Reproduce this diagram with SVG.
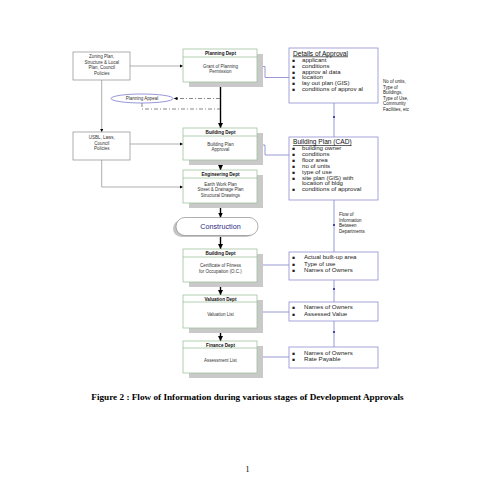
<svg xmlns="http://www.w3.org/2000/svg" width="495" height="495" viewBox="0 0 495 495">
<defs>
<style>
.bg{fill:#fff}
.box{fill:#fff;stroke:#9fc49f;stroke-width:0.8}
.shadow{fill:#c9c9c9}
.gbox{fill:#fff;stroke:#8c8c8c;stroke-width:0.7}
.hline{stroke:#9fc49f;stroke-width:0.8}
.hdr{font-family:"Liberation Sans",Arial,sans-serif;font-size:4.6px;font-weight:bold;text-anchor:middle;fill:#111}
.txt{font-family:"Liberation Sans",Arial,sans-serif;font-size:4.5px;text-anchor:middle;fill:#333}
.rbox{fill:#fff;stroke:#8e8ed2;stroke-width:0.8}
.ttl{font-family:"Liberation Sans",Arial,sans-serif;font-size:6.6px;fill:#111;text-decoration:underline}
.item{font-family:"Liberation Sans",Arial,sans-serif;font-size:6.1px;fill:#222}
.bul{font-family:"DejaVu Sans",sans-serif;font-size:4.5px;fill:#222}
.note{font-family:"Liberation Sans",Arial,sans-serif;font-size:4.5px;fill:#222}
.blue{stroke:#7f7fcc;stroke-width:0.8;fill:none}
.flow{stroke:#000;stroke-width:1.4;fill:none}
.grey{stroke:#8c8c8c;stroke-width:0.7;fill:none}
.dash{stroke:#555;stroke-width:0.7;fill:none;stroke-dasharray:4,2,1,2}
.dot{fill:#2a2a90}
</style>
<marker id="ah" viewBox="0 0 10 10" refX="10" refY="5" markerWidth="5" markerHeight="5" markerUnits="userSpaceOnUse" orient="auto"><path d="M0,0 L10,5 L0,10 z" fill="#000"/></marker>
<marker id="as" viewBox="0 0 10 10" refX="10" refY="5" markerWidth="3.5" markerHeight="3.5" markerUnits="userSpaceOnUse" orient="auto"><path d="M0,0 L10,5 L0,10 z" fill="#000"/></marker>
</defs>
<rect class="bg" x="0" y="0" width="495" height="495"/>

<g id="connectors">
<line class="grey" x1="130" y1="66" x2="183" y2="66" marker-end="url(#as)"/>
<line class="grey" x1="101.7" y1="80" x2="101.7" y2="132" marker-end="url(#as)"/>
<line class="grey" x1="130" y1="144" x2="183" y2="144" marker-end="url(#as)"/>
<polyline class="grey" points="101.7,160 101.7,187 183,187" marker-end="url(#as)"/>
<line class="flow" x1="220.5" y1="82" x2="220.5" y2="128" marker-end="url(#ah)"/>
<line class="flow" x1="220.5" y1="160" x2="220.5" y2="170" marker-end="url(#ah)"/>
<line class="flow" x1="220.5" y1="203" x2="220.5" y2="217.5" marker-end="url(#ah)"/>
<line class="flow" x1="220.5" y1="236" x2="220.5" y2="249" marker-end="url(#ah)"/>
<line class="flow" x1="220.5" y1="282" x2="220.5" y2="295" marker-end="url(#ah)"/>
<line class="flow" x1="220.5" y1="328" x2="220.5" y2="341" marker-end="url(#ah)"/>
<line class="dash" x1="220" y1="98.5" x2="174" y2="98.5" marker-end="url(#as)"/>
<polyline class="dash" points="142,103 142,109 220,109"/>
<polyline class="blue" points="257,66.5 265,66.5 265,77.5 289,77.5"/>
<polyline class="blue" points="257,145 265,145 265,155 289,155"/>
<line class="blue" x1="257" y1="265" x2="289" y2="265"/>
<line class="blue" x1="257" y1="312" x2="289" y2="312"/>
<line class="blue" x1="257" y1="357" x2="289" y2="357"/>
<line class="blue" x1="334" y1="103" x2="334" y2="137"/>
<line class="blue" x1="334" y1="200" x2="334" y2="252"/>
<line class="blue" x1="334" y1="280" x2="334" y2="302"/>
<line class="blue" x1="334" y1="321" x2="334" y2="347"/>
<circle class="dot" cx="334" cy="117" r="1.1"/>
<circle class="dot" cx="334" cy="225" r="1.1"/>
<circle class="dot" cx="334" cy="289" r="1.1"/>
<circle class="dot" cx="334" cy="332" r="1.1"/>
</g>

<g id="zoning">
<rect class="gbox" x="73" y="52" width="57" height="28"/>
<text class="txt" x="101.7" y="58">Zoning Plan,</text>
<text class="txt" x="101.7" y="63.5">Structure &amp; Local</text>
<text class="txt" x="101.7" y="69">Plan, Council</text>
<text class="txt" x="101.7" y="74.5">Policies</text>
</g>

<g id="usbl">
<rect class="gbox" x="73" y="132" width="57" height="28"/>
<text class="txt" x="101.7" y="139">USBL, Laws,</text>
<text class="txt" x="101.7" y="144.5">Council</text>
<text class="txt" x="101.7" y="150">Policies</text>
</g>

<g id="planning">
<rect class="shadow" x="189" y="54" width="74" height="33"/>
<rect class="box" x="183" y="49" width="74" height="33"/>
<line class="hline" x1="183" y1="57" x2="257" y2="57"/>
<text class="hdr" x="220.5" y="55">Planning Dept</text>
<text class="txt" x="220.5" y="67.5">Grant of Planning</text>
<text class="txt" x="220.5" y="73">Permission</text>
</g>

<g id="appeal">
<ellipse cx="142" cy="98.5" rx="31" ry="4.5" fill="#fff" stroke="#6a6ac8" stroke-width="0.7"/>
<text class="txt" x="142" y="100">Planning Appeal</text>
</g>

<g id="building">
<rect class="shadow" x="189" y="133" width="74" height="32"/>
<rect class="box" x="183" y="128" width="74" height="32"/>
<line class="hline" x1="183" y1="136" x2="257" y2="136"/>
<text class="hdr" x="220.5" y="134">Building Dept</text>
<text class="txt" x="220.5" y="145.5">Building Plan</text>
<text class="txt" x="220.5" y="151">Approval</text>
</g>

<g id="engineering">
<rect class="shadow" x="189" y="175" width="74" height="33"/>
<rect class="box" x="183" y="170" width="74" height="33"/>
<line class="hline" x1="183" y1="178" x2="257" y2="178"/>
<text class="hdr" x="220.5" y="176">Engineering Dept</text>
<text class="txt" x="220.5" y="185.5">Earth Work Plan</text>
<text class="txt" x="220.5" y="191">Street &amp; Drainage Plan</text>
<text class="txt" x="220.5" y="196.5">Structural Drawings</text>
</g>

<g id="construction">
<rect x="173" y="220" width="82" height="17" rx="8.5" fill="#c4c4c4"/>
<rect x="176" y="217.5" width="82" height="18" rx="9" fill="#fff" stroke="#8c8c8c" stroke-width="0.7"/>
<text x="220.5" y="229" font-family="Liberation Sans, Arial, sans-serif" font-size="7.2px" text-anchor="middle" fill="#2b2b80">Construction</text>
</g>

<g id="certificate">
<rect class="shadow" x="189" y="254" width="74" height="33"/>
<rect class="box" x="183" y="249" width="74" height="33"/>
<line class="hline" x1="183" y1="257" x2="257" y2="257"/>
<text class="hdr" x="220.5" y="255">Building Dept</text>
<text class="txt" x="220.5" y="266.5">Certificate of Fitness</text>
<text class="txt" x="220.5" y="272.5">for Occupation (O.C.)</text>
</g>

<g id="valuation">
<rect class="shadow" x="189" y="300" width="74" height="33"/>
<rect class="box" x="183" y="295" width="74" height="33"/>
<line class="hline" x1="183" y1="302" x2="257" y2="302"/>
<text class="hdr" x="220.5" y="300.5">Valuation Dept</text>
<text class="txt" x="220.5" y="316">Valuation List</text>
</g>

<g id="finance">
<rect class="shadow" x="189" y="346" width="74" height="32"/>
<rect class="box" x="183" y="341" width="74" height="32"/>
<line class="hline" x1="183" y1="348" x2="257" y2="348"/>
<text class="hdr" x="220.5" y="346.5">Finance Dept</text>
<text class="txt" x="220.5" y="362">Assessment List</text>
</g>

<g id="details">
<rect class="rbox" x="289" y="48" width="89" height="55"/>
<text class="ttl" x="293" y="55.5">Details of Approval</text>
<g class="bul"><text x="292" y="61.7">▪</text><text x="292" y="67.6">▪</text><text x="292" y="73.5">▪</text><text x="292" y="79.4">▪</text><text x="292" y="85.3">▪</text><text x="292" y="91.2">▪</text></g>
<text class="item" x="302" y="61.7">applicant</text>
<text class="item" x="302" y="67.6">conditions</text>
<text class="item" x="302" y="73.5">approv al data</text>
<text class="item" x="302" y="79.4">location</text>
<text class="item" x="302" y="85.3">lay out plan (GIS)</text>
<text class="item" x="302" y="91.2">conditions of approv al</text>
</g>

<g id="note1">
<text class="note" x="383" y="83">No of units,</text>
<text class="note" x="383" y="88.5">Type of</text>
<text class="note" x="383" y="94">Buildings,</text>
<text class="note" x="383" y="99.5">Type of Use,</text>
<text class="note" x="383" y="105">Community</text>
<text class="note" x="383" y="110.5">Facilities, etc</text>
</g>

<g id="buildingplan">
<rect class="rbox" x="289" y="137" width="89" height="63"/>
<text class="ttl" x="293" y="144">Building Plan (CAD)</text>
<g class="bul"><text x="292" y="150">▪</text><text x="292" y="155.9">▪</text><text x="292" y="161.8">▪</text><text x="292" y="167.7">▪</text><text x="292" y="173.6">▪</text><text x="292" y="179.5">▪</text><text x="292" y="191.3">▪</text></g>
<text class="item" x="302" y="150">building owner</text>
<text class="item" x="302" y="155.9">conditions</text>
<text class="item" x="302" y="161.8">floor area</text>
<text class="item" x="302" y="167.7">no of units</text>
<text class="item" x="302" y="173.6">type of use</text>
<text class="item" x="302" y="179.5">site plan (GIS) with</text>
<text class="item" x="302" y="185.4">location of bldg</text>
<text class="item" x="302" y="191.3">conditions of approval</text>
</g>

<g id="note2">
<text class="note" x="339" y="216">Flow of</text>
<text class="note" x="339" y="221.5">Information</text>
<text class="note" x="339" y="227">Between</text>
<text class="note" x="339" y="232.5">Departments</text>
</g>

<g id="occupancy">
<rect class="rbox" x="289" y="252" width="89" height="28"/>
<g class="bul"><text x="292" y="259">▪</text><text x="292" y="265.5">▪</text><text x="292" y="272">▪</text></g>
<text class="item" x="304" y="259">Actual built-up area</text>
<text class="item" x="304" y="265.5">Type of use</text>
<text class="item" x="304" y="272">Names of Owners</text>
</g>

<g id="valuationinfo">
<rect class="rbox" x="289" y="302" width="89" height="19"/>
<g class="bul"><text x="292" y="309">▪</text><text x="292" y="315.5">▪</text></g>
<text class="item" x="304" y="309">Names of Owners</text>
<text class="item" x="304" y="315.5">Assessed Value</text>
</g>

<g id="financeinfo">
<rect class="rbox" x="289" y="347" width="89" height="21"/>
<g class="bul"><text x="292" y="354.5">▪</text><text x="292" y="361">▪</text></g>
<text class="item" x="304" y="354.5">Names of Owners</text>
<text class="item" x="304" y="361">Rate Payable</text>
</g>

<text x="247.5" y="400" font-family="Liberation Serif, Times New Roman, serif" font-size="9.2px" font-weight="bold" text-anchor="middle" fill="#000">Figure 2 : Flow of Information during various stages of Development Approvals</text>
<text x="247.5" y="472" font-family="Liberation Serif, Times New Roman, serif" font-size="8px" text-anchor="middle" fill="#000">1</text>
</svg>
